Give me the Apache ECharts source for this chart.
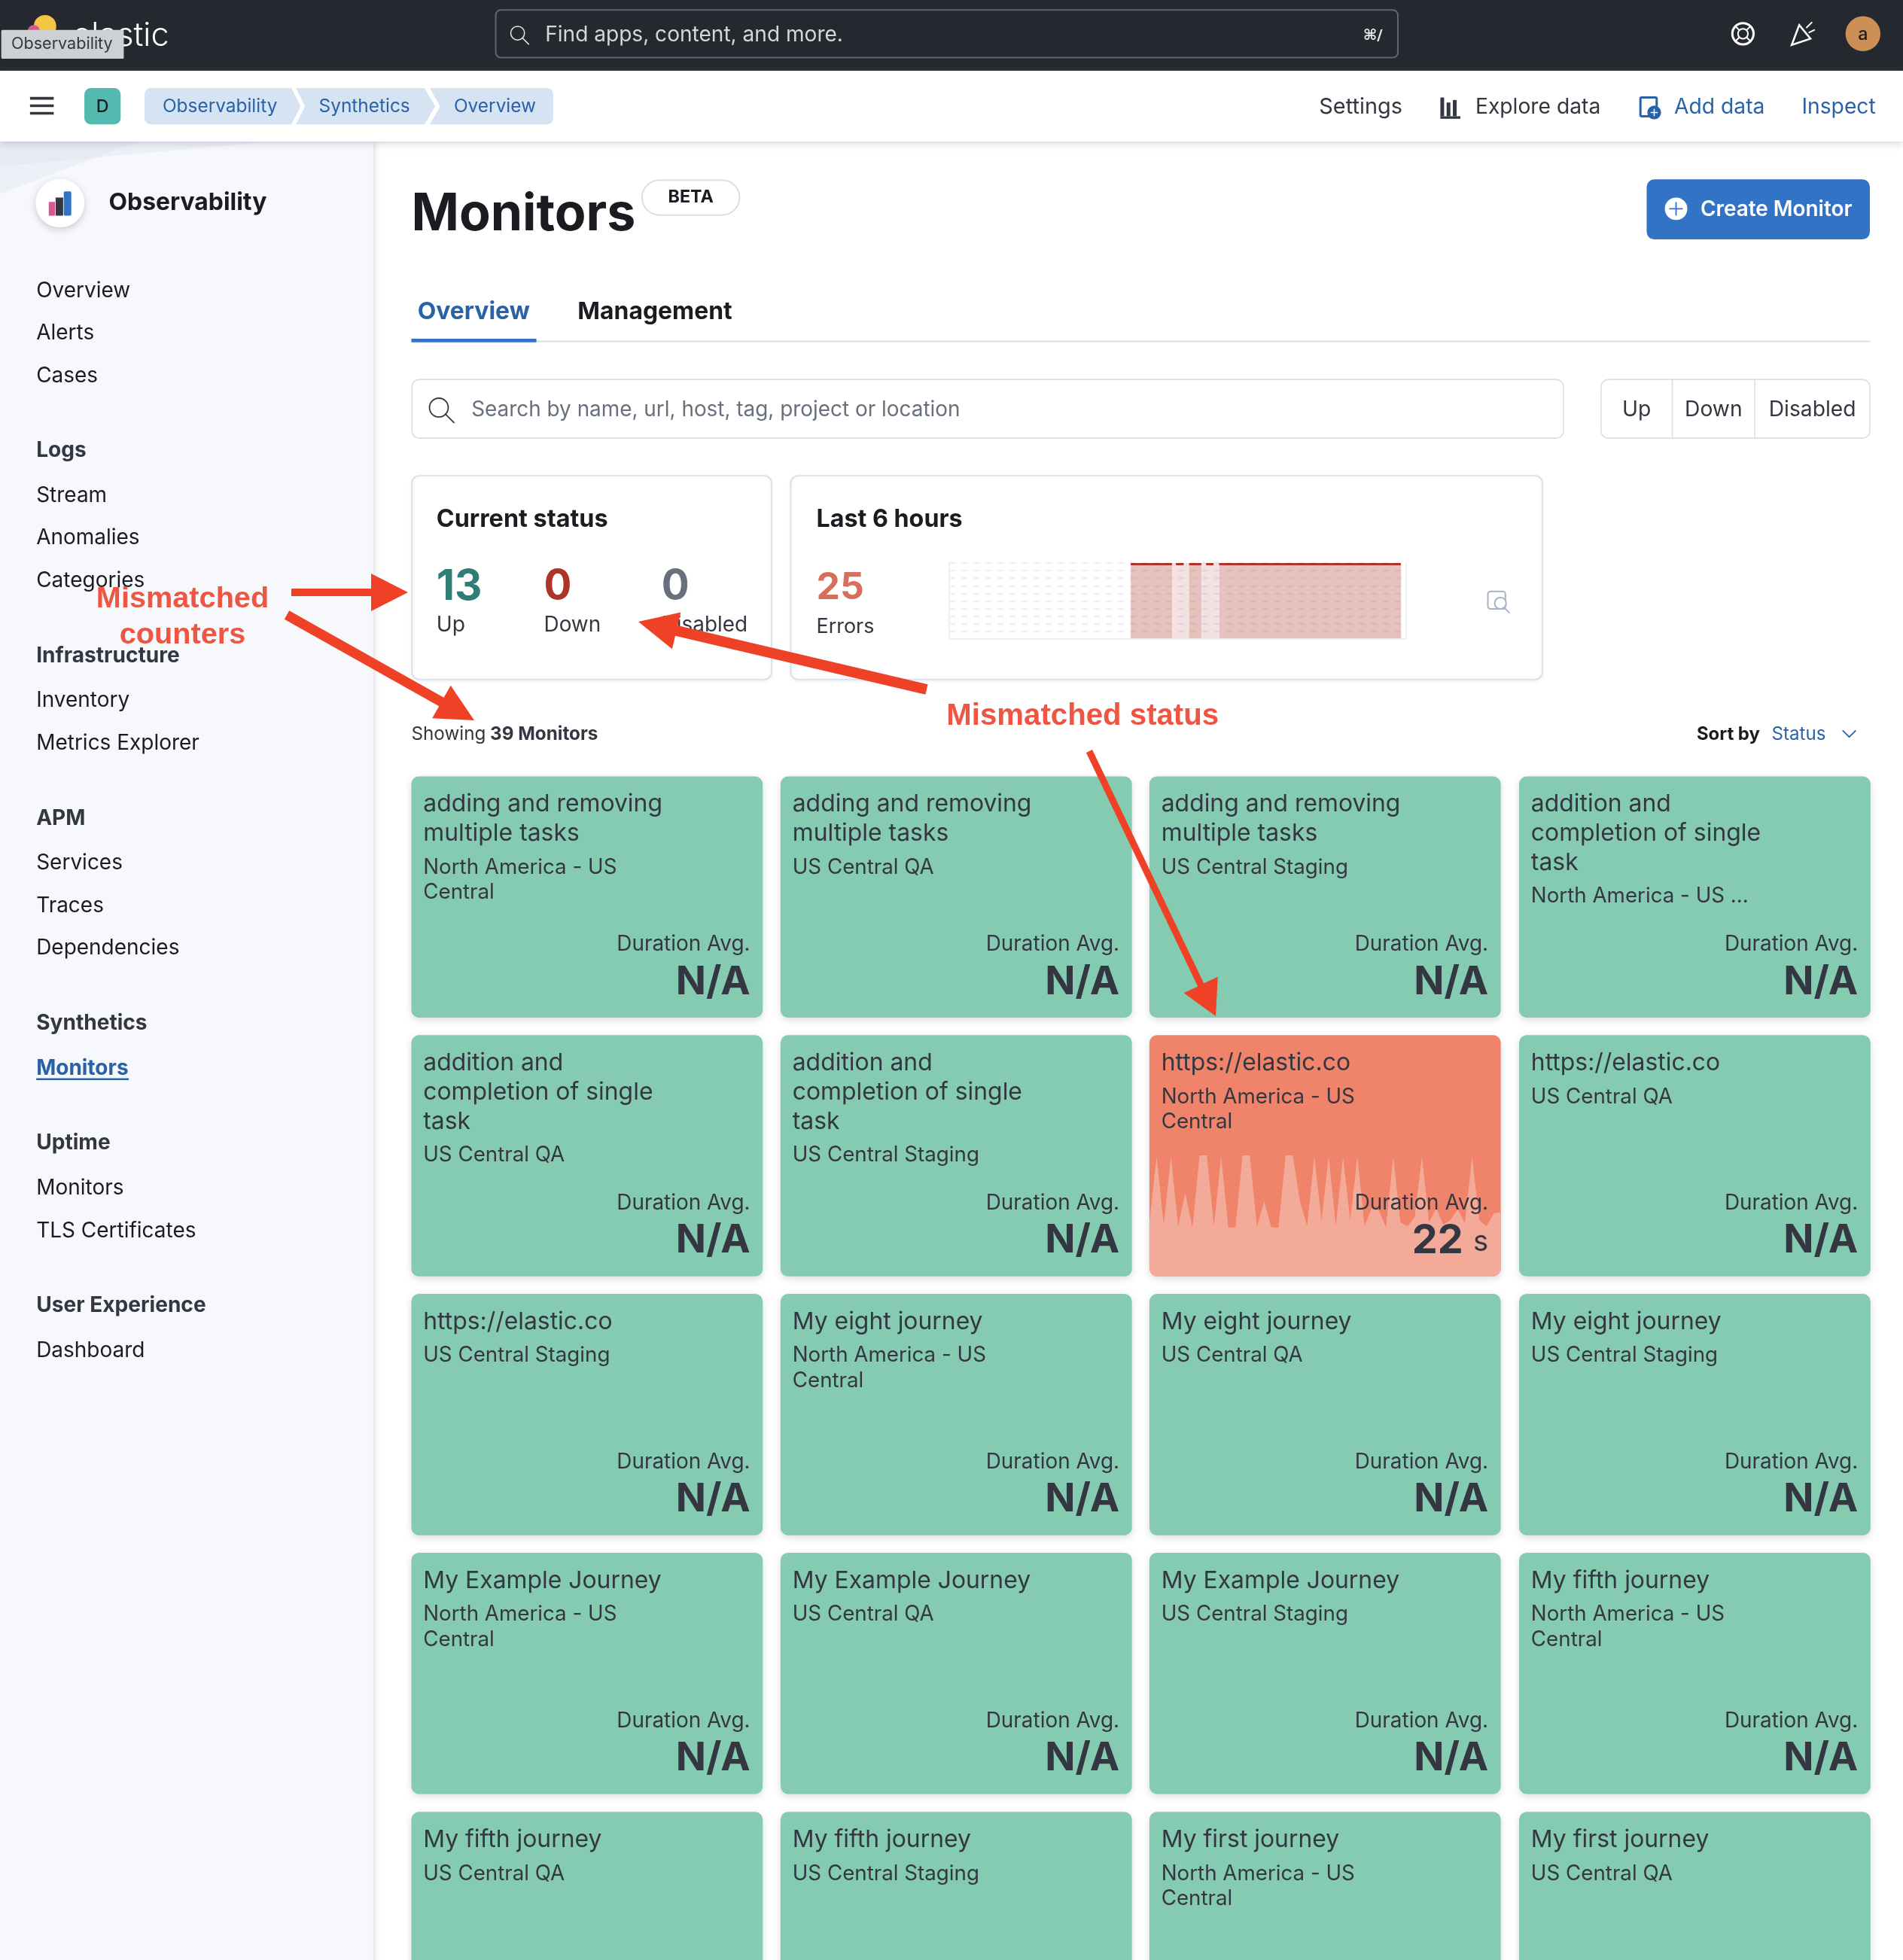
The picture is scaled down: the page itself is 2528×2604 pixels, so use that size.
<!DOCTYPE html>
<html><head><meta charset="utf-8">
<style>html,body{margin:0;padding:0;background:#fff}#c{width:2528px;height:2604px}</style>
<script src="https://cdn.jsdelivr.net/npm/echarts@6/dist/echarts.min.js"></script>
</head><body><div id="c"></div>
<script>
// ---- data ----
const monitorNames = [
 'adding and removing\nmultiple tasks','adding and removing\nmultiple tasks','adding and removing\nmultiple tasks',
 'addition and\ncompletion of single\ntask','addition and\ncompletion of single\ntask','addition and\ncompletion of single\ntask',
 'https://elastic.co','https://elastic.co','https://elastic.co',
 'My eight journey','My eight journey','My eight journey',
 'My Example Journey','My Example Journey','My Example Journey',
 'My fifth journey','My fifth journey','My fifth journey',
 'My first journey','My first journey'];
const monitorLocations = [
 'North America - US\nCentral','US Central QA','US Central Staging',
 'North America - US ...','US Central QA','US Central Staging',
 'North America - US\nCentral','US Central QA','US Central Staging',
 'North America - US\nCentral','US Central QA','US Central Staging',
 'North America - US\nCentral','US Central QA','US Central Staging',
 'North America - US\nCentral','US Central QA','US Central Staging',
 'North America - US\nCentral','US Central QA'];
const downMonitorIndex = 6;
const downMonitorDuration = '22';
const durationSeconds = [13.4,29.7,12.8,29.7,12.5,20.6,12.1,30,30,12.5,29.7,12.2,12.1,30,30,12.3,18.6,12.2,12.1,30,30,18.5,12.5,29.7,13.8,29.7,12.6,29.7,13.8,29.7,12.5,16.9,16.3,12.2,29.7,13.4,12.4,14.7,29.7,13.4,16.9,12.8,14,16.6,13.2,29.7,13.9,12.4,15.6,15.9];
const errorMinutesSolid = [[143,175.5],[189,198.6],[213,356]];
const errorMinutesPartial = [[175.5,189],[198.6,213]];
const errorTopMinutes = [[143,175.5],[178.6,184.7],[189,198.6],[202.4,208.2],[212.6,355.8]];
const sideGroups = [
 {title:'',items:['Overview','Alerts','Cases']},
 {title:'Logs',items:['Stream','Anomalies','Categories']},
 {title:'Infrastructure',items:['Inventory','Metrics Explorer']},
 {title:'APM',items:['Services','Traces','Dependencies']},
 {title:'Synthetics',items:['Monitors']},
 {title:'Uptime',items:['Monitors','TLS Certificates']},
 {title:'User Experience',items:['Dashboard']}];
const crumbs = ['Observability','Synthetics','Overview'];
const filters = ['Up','Down','Disabled'];

// ---- helpers (layout in 1522-wide units, scaled to the page) ----
const S = 2528/1522, F = 'Inter, "Noto Sans", sans-serif', HV = '"Liberation Sans", Arial, sans-serif';
const DARK='#343741', INK='#1a1c21', BLUE='#2a62a8', LINE='#d9dfea', RED='#ee4126', NOTE='#ee5542';
const g = [];
const T=(text,x,y,size,o={})=>g.push({type:'text',silent:true,z:o.z||20,style:{x:x*S,y:(y+1)*S,text,
  font:`${o.w||400} ${size*S}px ${o.ff||F}`,fill:o.c||DARK,align:o.a||'left',verticalAlign:'middle'}});
const R=(x,y,w,h,r,fill,o={})=>g.push({type:'rect',silent:true,z:o.z||1,shape:{x:x*S,y:y*S,width:w*S,height:h*S,r:r*S},
  style:{fill,stroke:o.stroke||null,lineWidth:o.lw||0,shadowBlur:o.blur||0,shadowColor:o.sc||'transparent',shadowOffsetX:o.ox||0,shadowOffsetY:o.oy||0}});
const C=(cx,cy,r,fill,o={})=>g.push({type:'circle',silent:true,z:o.z||2,shape:{cx:cx*S,cy:cy*S,r:r*S},
  style:{fill:fill,stroke:o.stroke||null,lineWidth:o.lw||0,shadowBlur:o.blur||0,shadowColor:o.sc||'transparent',shadowOffsetY:o.oy||0}});
const P=(pts,fill,z)=>g.push({type:'polygon',silent:true,z:z||2,shape:{points:pts.map(p=>[p[0]*S,p[1]*S])},style:{fill}});
const L=(x1,y1,x2,y2,c,lw,z)=>g.push({type:'line',silent:true,z:z||3,shape:{x1:x1*S,y1:y1*S,x2:x2*S,y2:y2*S},style:{stroke:c,lineWidth:lw,lineCap:'round'}});
const Arrow=(x1,y1,x2,y2,sw,hl,hw)=>{ // page pixels
  const d=Math.hypot(x2-x1,y2-y1),ux=(x2-x1)/d,uy=(y2-y1)/d,nx=-uy,ny=ux,bx=x2-ux*hl,by=y2-uy*hl;
  g.push({type:'polygon',silent:true,z:30,shape:{points:[[x1+nx*sw/2,y1+ny*sw/2],[bx+nx*sw/2,by+ny*sw/2],[bx+nx*hw/2,by+ny*hw/2],[x2,y2],[bx-nx*hw/2,by-ny*hw/2],[bx-nx*sw/2,by-ny*sw/2],[x1-nx*sw/2,y1-ny*sw/2]]},style:{fill:RED}});
};
const Mag=(cx,cy,r,c,lw)=>{C(cx,cy,r,'transparent',{stroke:c,lw,z:5});L(cx+r*.7,cy+r*.7,cx+r*1.6,cy+r*1.6,c,lw,5);};

// ---- top bar ----
R(0,0,1522,56.6,0,'#25282f',{z:3});
C(36,21,9,'#f4c542',{z:4}); C(27,25,5,'#d9568f',{z:4}); C(29,33,6,'#2f8fc5',{z:4}); C(39,33,7,'#3fb6a8',{z:4});
T('elastic',58,28,26,{c:'#fff',z:5,w:300});
R(1,24,98,23,1,'#cdd1d2',{z:6});
T('Observability',9,34.5,13,{z:7});
R(396.5,8,721.5,38,4,'transparent',{stroke:'#63666d',lw:2,z:4});
Mag(414,26.5,5.5,'#e8e9eb',1.5);
T('Find apps, content, and more.',436,27,16.9,{c:'#d4d6da',z:5});
T('⌘/',1098,27.5,12,{c:'#e8e9eb',w:700,a:'center',z:5,ff:'"DejaVu Sans"'});
C(1394,27,8.5,'transparent',{stroke:'#fff',lw:3,z:5}); C(1394,27,4,'transparent',{stroke:'#fff',lw:2,z:5});
L(1388,21,1391,24,'#fff',2,6); L(1400,21,1397,24,'#fff',2,6); L(1388,33,1391,30,'#fff',2,6); L(1400,33,1397,30,'#fff',2,6);
g.push({type:'polygon',silent:true,z:6,shape:{points:[[1433,36],[1439,20],[1448,31]].map(p=>[p[0]*S,p[1]*S])},style:{fill:'transparent',stroke:'#fff',lineWidth:2.5}});
L(1445,22,1449,18,'#fff',2,6); L(1447,26,1451,24,'#fff',2,6);
C(1490,27,14,'#cc8f56',{z:5}); T('a',1490,26.5,14,{c:INK,a:'center',w:500,z:6});

// ---- nav bar ----
R(0,56.6,1522,56.6,0,'#fff',{z:3,blur:10,sc:'rgba(110,120,140,.35)',oy:2});
[78.5,84.5,90.5].forEach(y=>R(24,y-1,19,2.2,0,DARK,{z:4}));
R(67.5,70.5,29,29,5,'#54b9ae',{z:4}); T('D',82,84.5,14,{c:INK,a:'center',w:500,z:5});
const BC='#d6e3f3';
R(115.6,70.5,30,29,5,BC,{z:4});
P([[125,70.5],[233,70.5],[240.5,85],[233,99.5],[125,99.5]],BC,4);
P([[236.6,70.5],[339.6,70.5],[348,85],[339.6,99.5],[236.6,99.5],[244,85]],BC,4);
R(412,70.5,30.5,29,5,BC,{z:4});
P([[343.8,70.5],[425,70.5],[425,99.5],[343.8,99.5],[352,85]],BC,4);
[130,255,363].forEach((x,i)=>T(crumbs[i],x,84.5,14.7,{c:BLUE,z:5}));
T('Settings',1055,84.5,17.4,{z:5});
R(1152,78,3,15,0,DARK,{z:5});R(1157,82,3,11,0,DARK,{z:5});R(1162,80,3,13,0,DARK,{z:5});R(1152,93,16,2,0,DARK,{z:5});
T('Explore data',1180,84.5,17,{z:5});
R(1312,78,13,15,1,'transparent',{stroke:BLUE,lw:3,z:5}); C(1323,90,5.5,BLUE,{z:6}); L(1320.5,90,1325.5,90,'#fff',1.5,7); L(1323,87.5,1323,92.5,'#fff',1.5,7);
T('Add data',1339,84.5,17,{c:BLUE,z:5});
T('Inspect',1441,84.5,17,{c:BLUE,z:5});

// ---- sidebar ----
R(0,113,298.5,1460,0,'#f7f8fc',{z:1,blur:8,sc:'rgba(110,120,140,.3)',ox:1});
P([[0,113],[111,113],[0,155]],'rgba(210,216,230,.25)',2);
P([[0,133],[216,113],[0,113]],'rgba(210,216,230,.25)',2);
C(48,162.5,19.5,'#fff',{z:2,blur:10,sc:'rgba(90,100,120,.3)',oy:3});
R(39,161.5,5,11,0,'#d9568f',{z:3}); R(44.5,158,6,14.5,0,DARK,{z:3}); R(51,153,6,19.5,1,'#2f74c5',{z:3});
T('Observability',87,161,19.2,{w:700,c:INK});
let sy=232;
sideGroups.forEach((grp,gi)=>{
  if(grp.title){ sy+=26; T(grp.title,29,sy-0.5,16.9,{w:700}); sy+=36; }
  grp.items.forEach((it,i)=>{
    const active=grp.title==='Synthetics';
    T(it,29,sy-0.5,16.85,{c:active?BLUE:INK,w:active?700:400});
    if(active) R(29,sy+8.5,74,1.4,0,BLUE,{z:3});
    sy+=34;
  });
});

// ---- page header ----
T('Monitors',329,171,41,{w:700,c:INK});
R(513.5,144,78,28,14,'#fff',{stroke:LINE,lw:2,z:3});
T('BETA',552.5,156.5,14,{w:700,c:INK,a:'center'});
R(1317,143.5,178.5,48,6,'#3373c6',{z:3});
C(1340.5,167,9,'#fff',{z:4}); L(1335.5,167,1345.5,167,'#3373c6',1.8,5); L(1340.5,162,1340.5,172,'#3373c6',1.8,5);
T('Create Monitor',1360,166.5,16.8,{c:'#fff',w:600});
T('Overview',334,248.7,19.2,{w:700,c:BLUE});
T('Management',462,248.7,19.2,{w:700,c:INK});
R(329,272.5,1167,1.2,0,LINE,{z:3});
R(329,271,100,2.8,0,'#3373c6',{z:4});
R(329.5,303.5,921,47,6,'#fff',{stroke:LINE,lw:1.6,z:3});
Mag(351,326,7.5,DARK,1.8);
T('Search by name, url, host, tag, project or location',377,327,16.8,{c:'#69707d'});
R(1280.5,303.5,215,47,6,'#fff',{stroke:LINE,lw:1.6,z:3});
L(1337.5,304,1337.5,350,LINE,1.6); L(1403.5,304,1403.5,350,LINE,1.6);
[1309,1370.5,1449.5].forEach((x,i)=>T(filters[i],x,327,17,{a:'center'}));

// ---- summary panels ----
const panel={stroke:LINE,lw:1.6,z:3,blur:4,sc:'rgba(110,120,140,.12)',oy:1};
R(329.5,380.5,287.5,163,6,'#fff',panel);
R(632.5,380.5,601,163,6,'#fff',panel);
T('Current status',349,414.5,19.5,{w:700,c:INK});
T('13',349,468.5,34,{w:700,c:'#2f7d74'}); T('Up',349,499,17);
T('0',435,468.5,33,{w:700,c:'#ac3429'}); T('Down',435,499,16.8);
T('0',529,468.5,33,{w:700,c:'#69707d'}); T('Disabled',529,499,16.8);
T('Last 6 hours',653,414.5,19.4,{w:700,c:INK});
T('25',653,469.5,30,{w:700,c:'#d6705a'}); T('Errors',653,500.5,16.2);
R(1190,473,14,14,2,'transparent',{stroke:'#a8b2c4',lw:2,z:4}); C(1200,482.5,4.6,'#fff',{stroke:'#a8b2c4',lw:2,z:5}); L(1203,486,1207,490,'#a8b2c4',2,5);
T('Showing',329,586.5,14.6); T('39 Monitors',392,586.5,14.6,{w:700});
T('Sort by',1357,586.5,14.4,{w:700,c:INK});
T('Status',1417,586.5,14.5,{c:BLUE});
L(1474,584.5,1479,589.5,BLUE,1.8,5); L(1479,589.5,1484,584.5,BLUE,1.8,5);

// ---- monitor cards ----
const colX=[329,624.3,919.3,1215], rowY=[621,828,1035,1242,1449.3], cw=281, ch=193;
monitorNames.forEach((name,i)=>{
  const cx=colX[i%4], cy=rowY[Math.floor(i/4)], down=i===downMonitorIndex;
  R(cx,cy,cw,ch,6,down?'#f0846b':'#85cbb1',{z:3,blur:10,sc:'rgba(80,90,110,.22)',oy:3});
  let y=cy+21.5;
  name.split('\n').forEach(l=>{T(l,cx+9.5,y,19.2);y+=23.3;});
  y+=3.6;
  monitorLocations[i].split('\n').forEach(l=>{T(l,cx+9.5,y,16.7);y+=20;});
  T('Duration Avg.',cx+cw-10,cy+133.5,16.8,{a:'right'});
  if(down){ T(downMonitorDuration,cx+cw-30,cy+163.5,32.5,{a:'right',w:700}); T('s',cx+cw-10,cy+165,23,{a:'right'}); }
  else T('N/A',cx+cw-10,cy+163.5,31.8,{a:'right',w:700});
});
// bottom corners of the failing card's area (arc approximated by points)
[[colX[2],1],[colX[2]+cw,-1]].forEach(([x,dir])=>{
  const X=x*S,Y=(rowY[1]+ch)*S,r=6*S,pts=[[X,Y]];
  for(let a=0;a<=8;a++){const t=a/8*Math.PI/2;pts.push([X+dir*(r-r*Math.cos(t)),Y-r+r*Math.sin(t)]);}
  g.push({type:'polygon',silent:true,z:6,shape:{points:pts},style:{fill:'#f4f4f6'}});
});

// ---- annotations ----
T('Mismatched',146,478.5,23.9,{w:700,c:NOTE,a:'center',ff:HV,z:31});
T('counters',146,507,23.9,{w:700,c:NOTE,a:'center',ff:HV,z:31});
T('Mismatched status',757,572,24.2,{w:700,c:NOTE,ff:HV,z:31});
Arrow(387,787,542,787,10,49,50);
Arrow(381,817,630,957,13,50,50);
Arrow(1231,916,848,826,14,52,50);
Arrow(1447,998,1615,1350,9,46,50);

// ---- chart ----
const gridColor='#eef0f5';
const rectSeries=(data,fill,topOnly)=>({type:'custom',xAxisIndex:0,yAxisIndex:0,z:4,silent:true,data,
  encode:{x:[0,1]},
  renderItem:(p,api)=>{
    const a=api.coord([api.value(0),1]),b=api.coord([api.value(1),0]);
    return {type:'rect',shape:{x:a[0],y:a[1],width:b[0]-a[0],height:topOnly?3:b[1]-a[1]},style:{fill}};
  }});
const chart=echarts.init(document.getElementById('c'),null,{renderer:'canvas',width:2528,height:2604});
chart.setOption({
  animation:false,
  backgroundColor:'#fff',
  graphic:{elements:g},
  grid:[
    {left:1261,width:607,top:748,height:101,z:4},
    {left:colX[2]*S,width:cw*S,top:1535,height:(rowY[1]+ch)*S-1535,z:4}
  ],
  xAxis:[
    {gridIndex:0,type:'value',min:0,max:360,z:4,axisLabel:{show:false},axisTick:{show:false},splitLine:{show:false},
     axisLine:{show:true,onZero:false,lineStyle:{color:gridColor,width:2}}},
    {gridIndex:1,type:'category',boundaryGap:false,show:false,z:4,data:durationSeconds.map((_,i)=>i)}
  ],
  yAxis:[
    {gridIndex:0,type:'value',min:0,max:1,interval:0.1,z:4,axisLabel:{show:false},axisTick:{show:false},
     axisLine:{show:true,onZero:false,lineStyle:{color:gridColor,width:2}},
     splitLine:{show:true,lineStyle:{color:gridColor,width:2.4,type:[8,8]}}},
    {gridIndex:1,type:'value',min:0,max:30,show:false,z:4},
    {gridIndex:0,type:'value',position:'right',min:0,max:1,z:4,axisLabel:{show:false},axisTick:{show:false},splitLine:{show:false},
     axisLine:{show:true,onZero:false,lineStyle:{color:gridColor,width:2}}}
  ],
  series:[
    rectSeries(errorMinutesSolid,'rgba(172,52,41,.3)'),
    rectSeries(errorMinutesPartial,'rgba(172,52,41,.14)'),
    rectSeries(errorTopMinutes,'#ac3429',true),
    {type:'line',xAxisIndex:1,yAxisIndex:1,z:4,silent:true,data:durationSeconds,symbol:'none',
     lineStyle:{width:0},areaStyle:{color:'#f3aa98',opacity:1}}
  ]
});
</script></body></html>
